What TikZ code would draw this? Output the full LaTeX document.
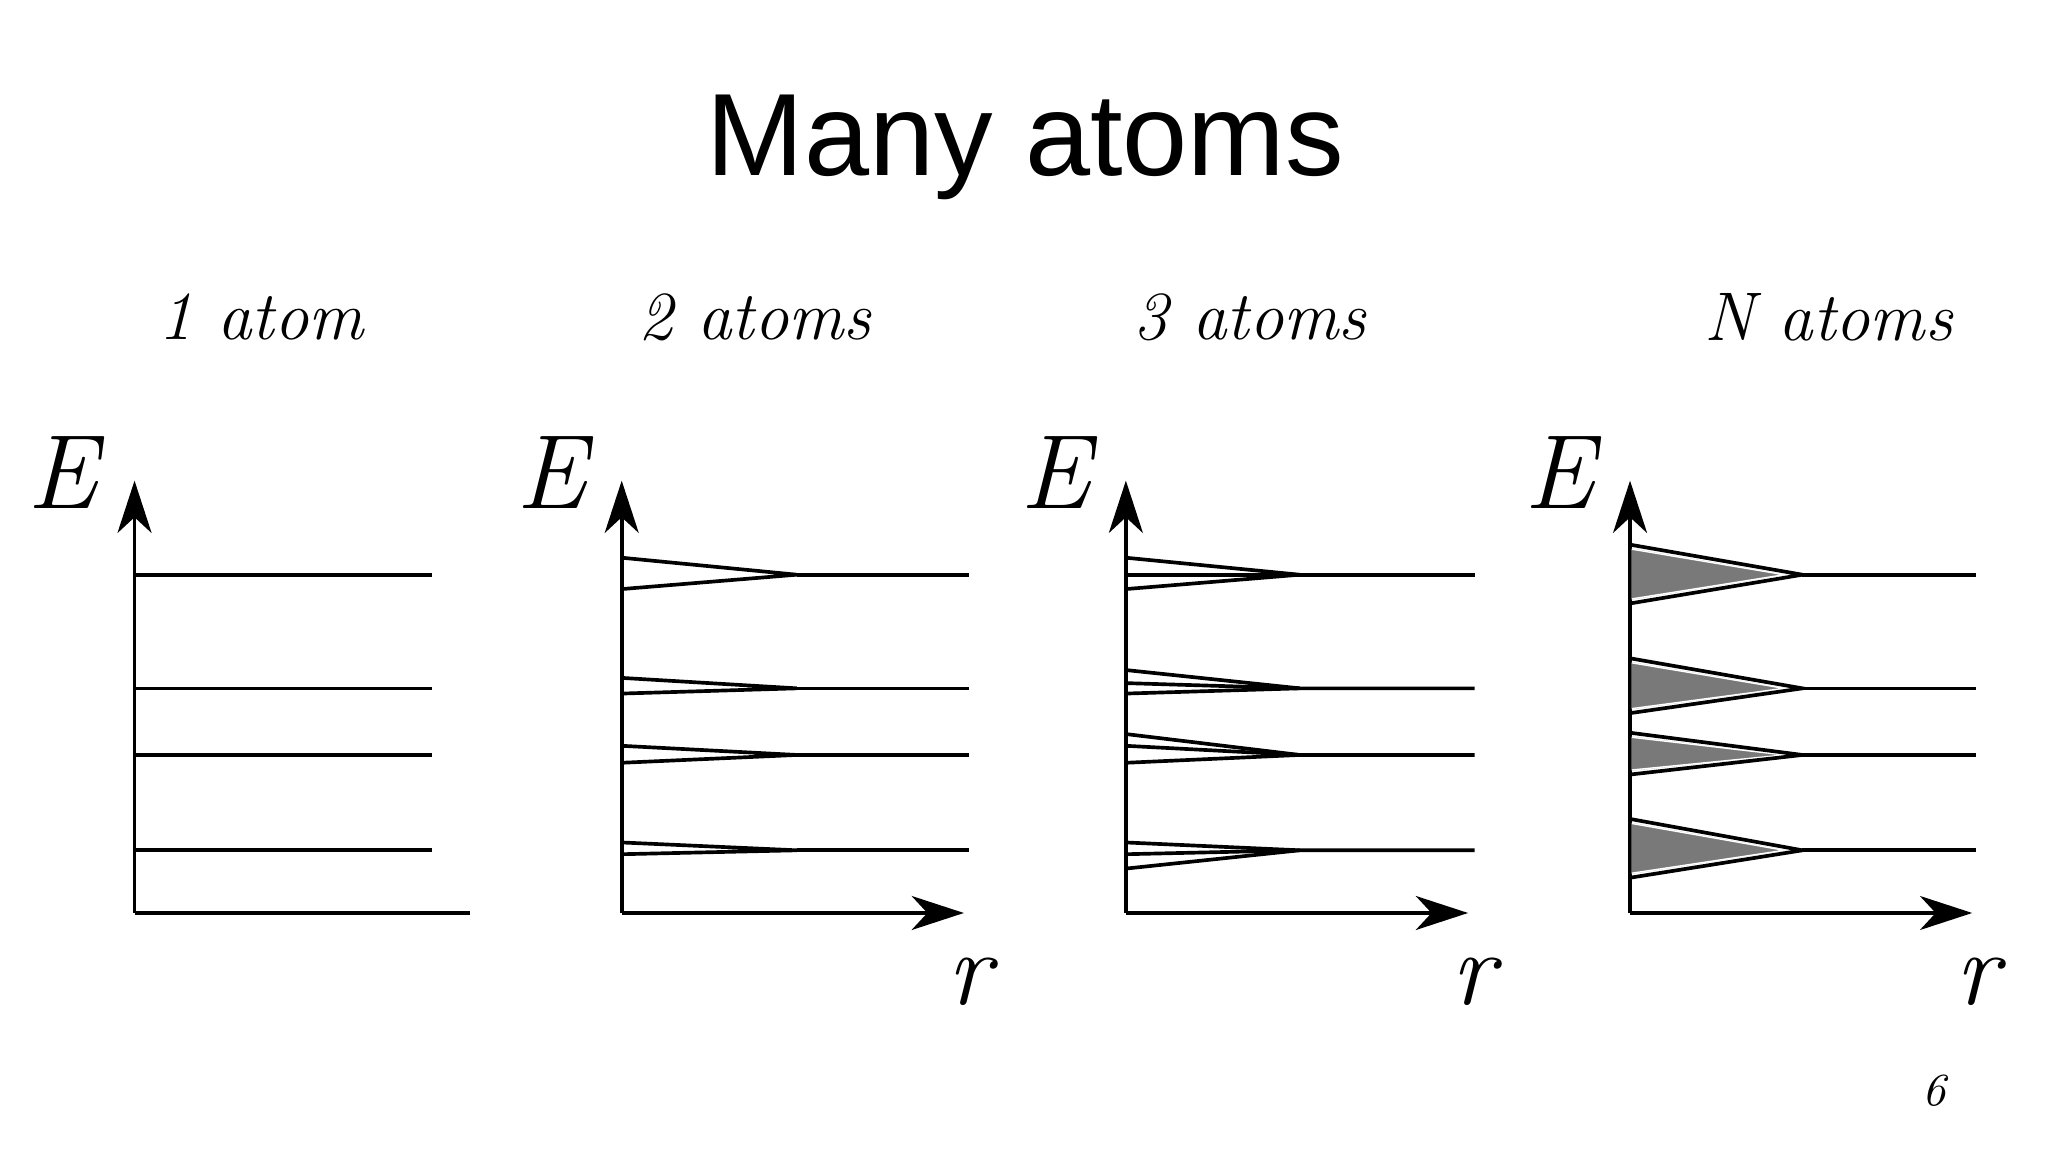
\documentclass[tikz,border=0pt]{standalone}
\usepackage{fontspec}
\setsansfont{Liberation Sans}
\usetikzlibrary{arrows.meta}
\begin{document}
\begin{tikzpicture}[x=0.1mm,y=-0.1mm,
  ln/.style={line width=0.8pt,line join=miter},
  ax/.style={line width=0.8pt,-{Stealth[length=4mm,width=2.6mm,inset=1.2mm]}},
  hand/.style={font=\itshape\fontsize{15}{18}\selectfont},
  big/.style={font=\itshape\fontsize{23}{27}\selectfont}]
\useasboundingbox (0,0) rectangle (1568,882);
\node[font=\sffamily\fontsize{25.5}{30}\selectfont] (title) at (785,113) {Many atoms};
\node[hand] (t1) at (200,243) {1 atom};
\node[hand] (t2) at (578,243) {2 atoms};
\node[hand] (t3) at (957,243) {3 atoms};
\node[hand] (t4) at (1400,243) {N atoms};
\node[font=\fontsize{10}{12}\selectfont\itshape] (pg) at (1481,835) {6};
% panel 1
\node[big] (E1) at (48,362) {E};
\coordinate (o1) at (103,699);
\draw[ax] (o1) -- (103,368);
\draw[ln] (o1) -- (360,699);
\foreach \y in {440,527,578,651} \draw[ln] (103,\y) -- (331,\y);
% panels 2-4
\foreach \x/\n in {476/2,862/3,1248/4}{
  \node[big] (E\n) at (\x-54,362) {E};
  \coordinate (o\n) at (\x,699);
  \draw[ax] (o\n) -- (\x,368);
  \draw[ax] (o\n) -- (\x+262,699);
  \node[big] (r\n) at (\x+266,752) {r};
}
% panel 2
\foreach \y/\a/\b in {440/427/451,527/519/531,578/571/584,651/645/654}{
  \draw[ln] (476,\a) -- (610,\y) -- (476,\b);
  \draw[ln] (610,\y) -- (742,\y);
}
% panel 3
\foreach \y/\a/\m/\b in {440/427/440/451,527/513/523/531,578/562/571/584,651/645/654/665}{
  \draw[ln] (862,\a) -- (995,\y) -- (862,\b);
  \draw[ln] (862,\m) -- (995,\y) -- (1129,\y);
}
% panel 4
\foreach \y/\a/\b in {440/417/462,527/504/546,578/561/593,651/627/672}{
  \fill[gray!95!black] (1249,\a+3) -- (1368,\y) -- (1249,\b-3) -- cycle;
  \draw[white,line width=0.3pt] (1249.5,\a+3.5) -- (1366,\y) -- (1249.5,\b-3.5);
  \draw[ln] (1248,\a) -- (1380,\y) -- (1248,\b);
  \draw[ln] (1380,\y) -- (1513,\y);
}
\end{tikzpicture}
\end{document}
